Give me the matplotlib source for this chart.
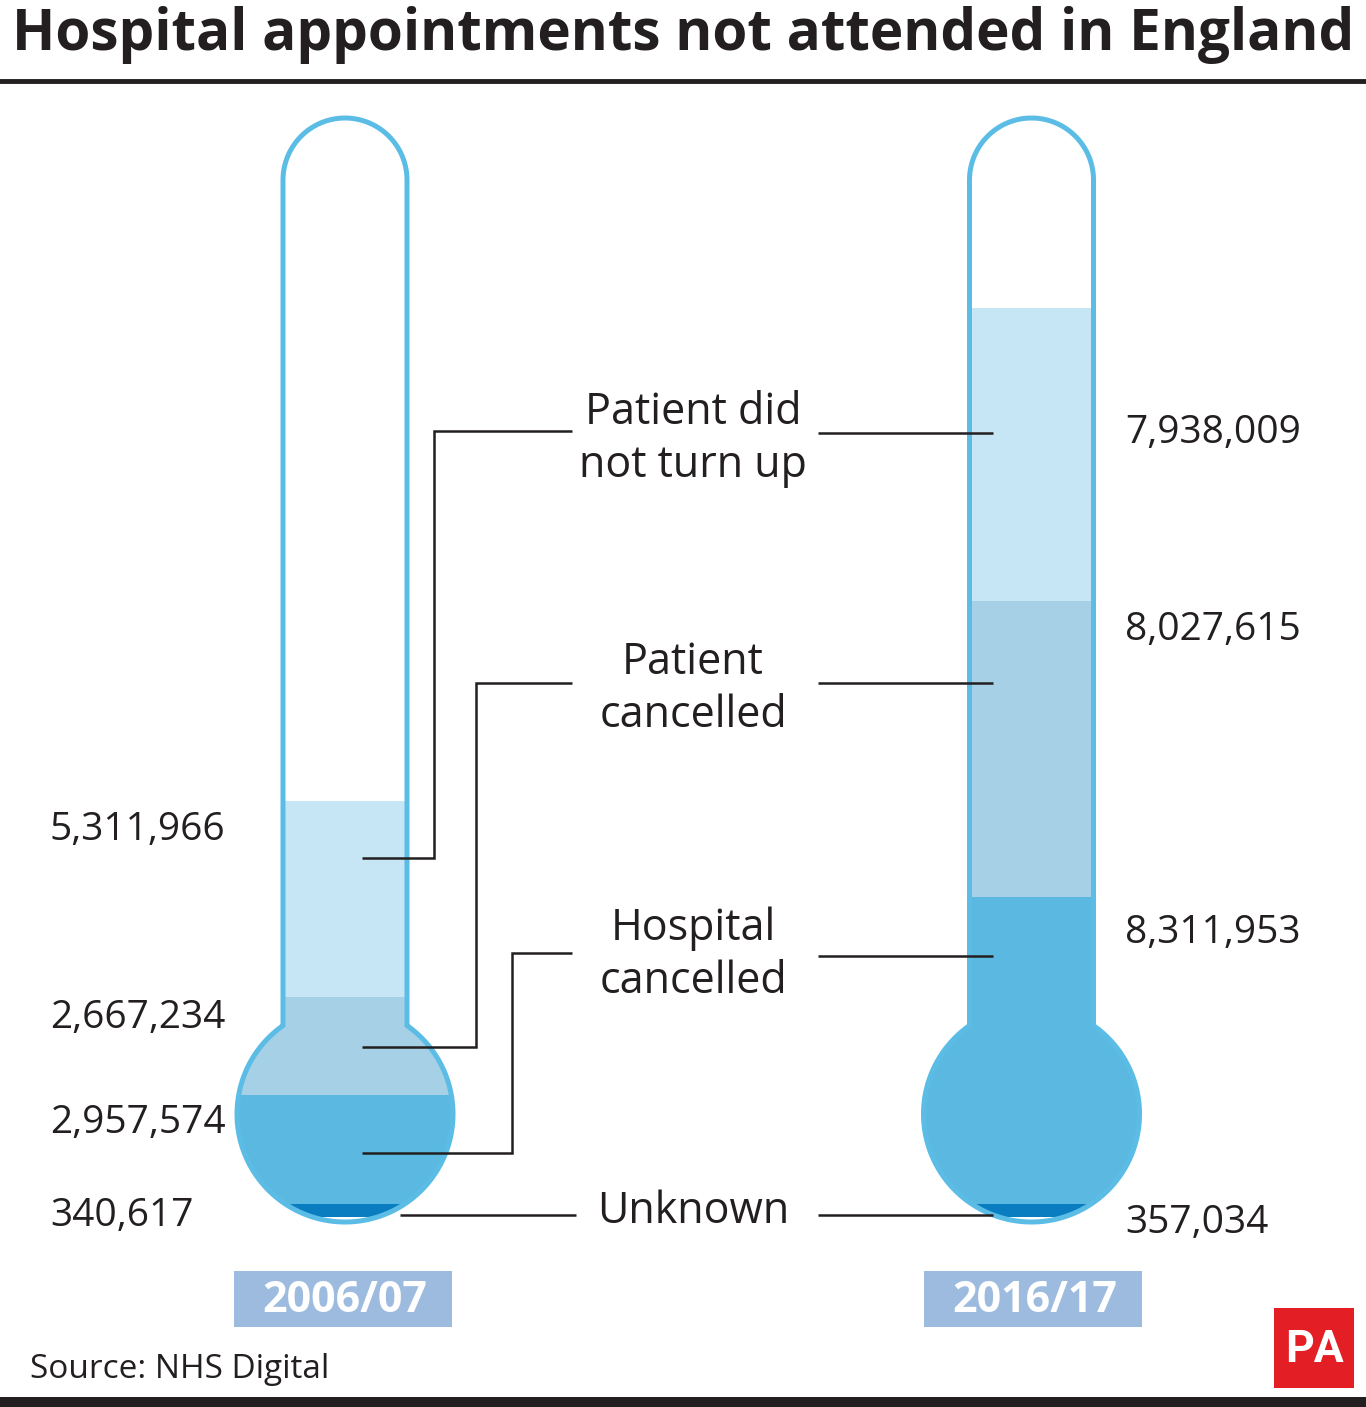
import numpy as np
import matplotlib.pyplot as plt
from matplotlib.path import Path
from matplotlib.patches import PathPatch, Rectangle
from matplotlib.transforms import Affine2D

# data
years = ["2006/07", "2016/17"]
categories = ["Unknown", "Hospital cancelled", "Patient cancelled", "Patient did not turn up"]
appts_0607 = [340617, 2957574, 2667234, 5311966]
appts_1617 = [357034, 8311953, 8027615, 7938009]

fill_colors = ["#0a7dc1", "#5bb9e1", "#a6d0e6", "#c6e5f5"]
outline = "#5bbde5"
ink = "#231f20"

W, H = 1366, 1407
fig = plt.figure(figsize=(W / 100, H / 100), dpi=100)
ax = fig.add_axes([0, 0, 1, 1])
ax.axis("off")

# x axis in pixels, y axis in millions of appointments
PPM = 36.9      # pixels per million
BASE = 1217     # pixel row of zero
ax.set_xlim(0, W)
ax.set_ylim((BASE - H) / PPM, BASE / PPM)

# pixel transform (origin top-left) for decoration
px = Affine2D().scale(1 / W, -1 / H).translate(0, 1) + fig.transFigure


def thermometer(cx, half=62, top=118, by=1114, R=108):
    ty = top + half
    a = np.arccos(half / R)
    t1 = np.linspace(np.pi, 0, 60)
    top_arc = np.c_[cx + half * np.cos(t1), ty - half * np.sin(t1)]
    jy = by - R * np.sin(a)
    t2 = np.linspace(-a, np.pi + a, 200)
    bulb = np.c_[cx + R * np.cos(t2), by + R * np.sin(t2)]
    verts = np.vstack([top_arc, [[cx + half, jy]], bulb, [[cx - half, ty]], [[cx - half, ty]]])
    codes = [Path.MOVETO] + [Path.LINETO] * (len(verts) - 2) + [Path.CLOSEPOLY]
    return Path(verts, codes)


centers = [345, 1031.5]
for cx, vals in zip(centers, [appts_0607, appts_1617]):
    shape = PathPatch(thermometer(cx), transform=px, facecolor="none",
                      edgecolor=outline, lw=3.6, zorder=5)
    ax.add_patch(shape)
    v = np.array(vals) / 1e6
    bottoms = np.concatenate([[0], np.cumsum(v)[:-1]])
    bars = ax.bar([cx] * len(v), v, bottom=bottoms, width=240,
                  color=fill_colors, linewidth=0, zorder=2)
    for b in bars:
        b.set_clip_path(shape)

# leader lines (pixel coords)
leaders = [
    [(362, 858), (434, 858), (434, 431), (572, 431)],
    [(362, 1047), (476, 1047), (476, 683), (572, 683)],
    [(362, 1153), (512, 1153), (512, 953), (572, 953)],
    [(400, 1215), (576, 1215)],
    [(818, 433), (993, 433)],
    [(818, 683), (993, 683)],
    [(818, 956), (993, 956)],
    [(818, 1215), (993, 1215)],
]
for pts in leaders:
    xs, ys = zip(*pts)
    ax.plot(xs, ys, color=ink, lw=1.8, transform=px, zorder=6,
            solid_joinstyle="miter", solid_capstyle="butt")

font = "Open Sans"
labels = ["Patient did\nnot turn up", "Patient\ncancelled", "Hospital\ncancelled", "Unknown"]
label_y = [439, 689, 955, 1212]
for s, y in zip(labels, label_y):
    ax.text(693, y, s, transform=px, ha="center", va="center", fontsize=31,
            family=font, color=ink, linespacing=1.25)

left_y = [1216, 1123, 1018, 830]
right_y = [1223, 933, 630, 433]
for v, y in zip(appts_0607, left_y):
    ax.text(50, y, f"{v:,}", transform=px, ha="left", va="center",
            fontsize=28, family=font, color=ink)
for v, y in zip(appts_1617, right_y):
    ax.text(1125, y, f"{v:,}", transform=px, ha="left", va="center",
            fontsize=28, family=font, color=ink)

# year boxes
for cx, yr in zip([343, 1033], years):
    ax.add_patch(Rectangle((cx - 109, 1271), 218, 56, transform=px,
                           facecolor="#9dbbdf", edgecolor="none"))
    ax.text(cx + 2, 1301, yr, transform=px, ha="center", va="center",
            fontsize=31, weight="bold", family=font, color="white")

# title and rules
ax.text(12, 35, "Hospital appointments not attended in England", transform=px,
        ha="left", va="center", fontsize=40.8, weight="bold", family=font, color=ink)
ax.plot([0, W], [81, 81], color=ink, lw=3.5, transform=px)
ax.add_patch(Rectangle((0, 1397), W, 10, transform=px, facecolor=ink, edgecolor="none"))

ax.text(30, 1370, "Source: NHS Digital", transform=px, ha="left", va="center",
        fontsize=24, family=font, color=ink)

# PA logo
ax.add_patch(Rectangle((1274, 1308), 80, 80, transform=px, facecolor="#e31e24",
                       edgecolor="none"))
ax.text(1314, 1350, "PA", transform=px, ha="center", va="center", fontsize=32,
        weight="bold", family=["Liberation Sans Narrow", "Roboto"], color="white")

fig.savefig("out.png", dpi=100)
